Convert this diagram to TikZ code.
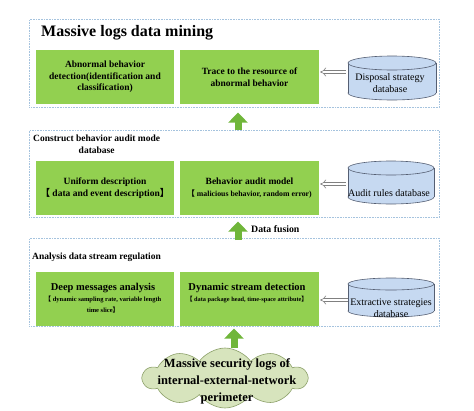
\documentclass[tikz,border=0pt]{standalone}
\usepackage{fontspec}
\setmainfont{Liberation Serif}
\newfontfamily\cjk{Noto Sans CJK SC}
\usetikzlibrary{arrows.meta,shapes.symbols}
\definecolor{boxgreen}{RGB}{146,208,80}
\definecolor{arrowgreen}{RGB}{112,182,58}
\definecolor{frameblue}{RGB}{165,195,222}
\definecolor{cylfill}{RGB}{198,217,241}
\definecolor{cyldraw}{RGB}{85,95,115}
\definecolor{cloudfill}{RGB}{215,228,189}
\definecolor{clouddraw}{RGB}{140,160,105}
\newcommand{\lbk}{{\cjk 【}}
\newcommand{\rbk}{{\cjk 】}}
\newcommand{\dbcyl}[5]{% cx, top, bottom, rx, ry
  \filldraw[fill=cylfill,draw=cyldraw,line width=0.6pt] (#1,#3-#5) ellipse [x radius=#4pt, y radius=#5pt];
  \fill[cylfill] (#1-#4,#2+#5) rectangle (#1+#4,#3-#5);
  \draw[cyldraw,line width=0.6pt] (#1-#4,#2+#5) -- (#1-#4,#3-#5) (#1+#4,#2+#5) -- (#1+#4,#3-#5);
  \filldraw[fill=cylfill,draw=cyldraw,line width=0.6pt] (#1,#2+#5) ellipse [x radius=#4pt, y radius=#5pt];
}
\begin{document}
\begin{tikzpicture}[x=1pt,y=-1pt,
  frame/.style={draw=frameblue, densely dotted, line width=0.6pt, inner sep=0pt, anchor=north west},
  gbox/.style={fill=boxgreen, draw=none, minimum width=138pt, minimum height=54pt, inner sep=0pt, align=center, font=\bfseries\fontsize{9.5}{11.6}\selectfont},
  gtext/.style={inner sep=0pt, align=center, anchor=north},
  head/.style={inner sep=0pt, font=\bfseries\fontsize{9.5}{11.5}\selectfont},
  dbtext/.style={inner sep=0pt, minimum width=88pt, align=center, font=\fontsize{10}{12}\selectfont},
  hollow/.style={draw=gray, double=white, double distance=2.6pt, line width=0.6pt, -{Implies[scale=1.4]}},
  garrow/.style={draw=arrowgreen, line width=7pt, -{Triangle[width=19pt,length=10pt]}},
]
\useasboundingbox (0,0) rectangle (474,410);

% frames
\node[frame, minimum width=410pt, minimum height=88pt] (f1) at (29,19) {};
\node[frame, minimum width=410pt, minimum height=87pt] (f2) at (29,130) {};
\node[frame, minimum width=410pt, minimum height=88pt] (f3) at (29,238) {};

% titles
\node[inner sep=0pt, anchor=west, font=\bfseries\fontsize{16}{19}\selectfont] (t1) at (41,33) {Massive logs data mining};
\node[head, anchor=north west, align=center] (t2) at (33,135) {Construct behavior audit mode\\database};
\node[head, anchor=west] (t3) at (32,257) {Analysis data stream regulation};

% green boxes row 1
\node[gbox] (a1) at (105,77) {Abnormal behavior\\detection(identification and\\classification)};
\node[gbox, minimum width=139pt] (b1) at (249.5,77) {Trace to the resource of\\abnormal behavior};
% row 2
\node[gbox] (a2) at (105,188) {Uniform description\\\lbk{} data and event description\rbk};
\node[gbox, minimum width=139pt] (b2) at (249.5,188) {Behavior audit model\\{\fontsize{7.8}{11.6}\selectfont\lbk{} malicious behavior, random error)}};
% row 3
\node[gbox] (a3) at (105,299) {};
\node[gbox, minimum width=139pt] (b3) at (249.5,299) {};
\node[gtext] (a3t) at (103,283) {{\bfseries\fontsize{10.5}{11}\selectfont Deep messages analysis}\\[-1pt]
  {\bfseries\fontsize{6.5}{9}\selectfont \lbk{} dynamic sampling rate, variable length}\\[-1pt]
  {\bfseries\fontsize{6.5}{9}\selectfont time slice\rbk}};
\node[gtext] (b3t) at (247,283) {{\bfseries\fontsize{10.5}{11}\selectfont Dynamic stream detection}\\[-1pt]
  {\bfseries\fontsize{6.3}{9}\selectfont \lbk{} data package head, time-space attribute\rbk}};

% databases
\dbcyl{392}{56}{100}{44}{7}
\dbcyl{391}{161}{204}{43}{7}
\dbcyl{391}{278}{317}{43}{6}
\node[dbtext] (d1) at (390,83) {Disposal strategy\\database};
\node[dbtext, minimum width=86pt] (d2) at (389,193) {Audit rules database};
\node[dbtext, minimum width=86pt] (d3) at (391,308) {Extractive strategies\\database};

% hollow arrows
\coordinate (h1) at (0,72);
\coordinate (h2) at (0,184);
\coordinate (h3) at (0,300);
\draw[hollow] (d1.west |- h1) -- ([xshift=1pt]b1.east |- h1);
\draw[hollow] (d2.west |- h2) -- ([xshift=1pt]b2.east |- h2);
\draw[hollow] (d3.west |- h3) -- ([xshift=1pt]b3.east |- h3);

% cloud
\node[cloud, cloud puffs=10, cloud puff arc=110, aspect=2.6, fill=cloudfill, draw=clouddraw, line width=0.6pt, minimum width=164pt, minimum height=60pt, inner sep=0pt] (cl) at (225,378) {};
\node[inner sep=0pt, align=center, font=\bfseries\fontsize{12.5}{17}\selectfont] (clt) at (227,381) {Massive security logs of\\internal-external-network\\perimeter};

% green arrows
\coordinate (ax1) at (238,0);
\coordinate (ax3) at (234,0);
\draw[garrow, shorten >=5pt] (f2.north -| ax1) -- (f1.south -| ax1);
\draw[garrow, shorten >=4pt, shorten <=-2pt] (f3.north -| ax1) -- (f2.south -| ax1);
\draw[garrow, shorten >=2pt] (cl.north -| ax3) -- (f3.south -| ax3);
\node[inner sep=0pt, anchor=west, font=\bfseries\fontsize{9.8}{11}\selectfont] (df) at (251,229) {Data fusion};
\end{tikzpicture}
\end{document}
